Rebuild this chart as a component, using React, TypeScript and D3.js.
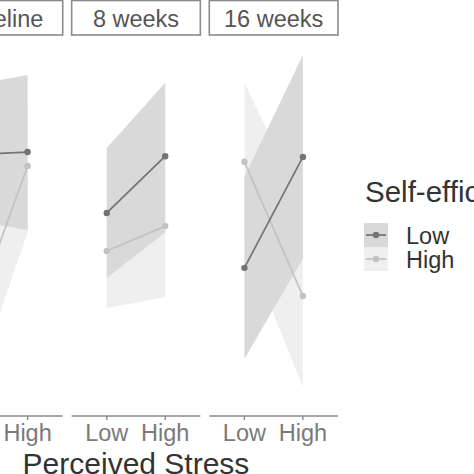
import React from "react";
import * as d3 from "d3";

// Facets (time points) and x categories
const facets = ["Baseline", "8 weeks", "16 weeks"];
const stressLevels = ["Low", "High"];
const efficacyGroups = ["Low", "High"];
const xTitle = "Perceived Stress";
const legendTitle = "Self-efficacy";

// Per facet: [Low stress, High stress]
const lowEffMean = [[6.94, 7.02], [5.40, 6.91], [3.94, 6.89]];
const lowEffLower = [[5.21, 4.95], [3.67, 4.89], [1.52, 4.18]];
const lowEffUpper = [[8.78, 9.07], [7.13, 8.86], [6.36, 9.60]];
const highEffMean = [[2.34, 6.65], [4.39, 5.05], [6.76, 3.19]];
const highEffLower = [[0.35, 4.89], [2.87, 3.16], [4.65, 0.77]];
const highEffUpper = [[4.34, 8.40], [5.90, 6.94], [8.86, 5.61]];

const W = 474;
const H = 474;
const FONT = "'Liberation Sans', Arial, Helvetica, sans-serif";

const groupStyle: Record<string, { line: string; fill: string }> = {
  Low: { line: "#737373", fill: "#d9d9d9" },
  High: { line: "#c2c2c2", fill: "#efefef" },
};

export default function App() {
  const facetX = d3.scaleBand<string>().domain(facets).range([-66, 338]).paddingInner(0.065);
  const pw = facetX.bandwidth();
  const x = d3.scalePoint<string>().domain(stressLevels).range([0, pw]).padding(0.6);
  const y = d3.scaleLinear().domain([0, 10]).range([416, 40]);
  const axisY = 416;

  const series = (fi: number) => [
    { g: "High", mean: highEffMean[fi], lo: highEffLower[fi], hi: highEffUpper[fi] },
    { g: "Low", mean: lowEffMean[fi], lo: lowEffLower[fi], hi: lowEffUpper[fi] },
  ];

  const area = d3
    .area<{ s: string; lo: number; hi: number }>()
    .x((d) => x(d.s)!)
    .y0((d) => y(d.lo))
    .y1((d) => y(d.hi));
  const line = d3
    .line<{ s: string; v: number }>()
    .x((d) => x(d.s)!)
    .y((d) => y(d.v));

  return (
    <svg width={W} height={H} style={{ position: "absolute", left: 0, top: 0, background: "#fff" }}>
      <rect width={W} height={H} fill="#fff" />
      {facets.map((f, fi) => {
        const x0 = facetX(f)!;
        const ser = series(fi);
        return (
          <g key={f} transform={`translate(${x0},0)`}>
            {/* strip */}
            <rect x={0} y={0.5} width={pw} height={34.5} fill="#fff" stroke="#8a8a8a" strokeWidth={1.6} />
            <text x={pw / 2} y={27} textAnchor="middle" fontFamily={FONT} fontSize={23.5} fill="#555">
              {f}
            </text>
            {/* ribbons */}
            {ser.map((s) => (
              <path
                key={"r" + s.g}
                d={area(stressLevels.map((sl, i) => ({ s: sl, lo: s.lo[i], hi: s.hi[i] })))!}
                fill={groupStyle[s.g].fill}
              />
            ))}
            {/* lines */}
            {ser.map((s) => (
              <path
                key={"l" + s.g}
                d={line(stressLevels.map((sl, i) => ({ s: sl, v: s.mean[i] })))!}
                fill="none"
                stroke={groupStyle[s.g].line}
                strokeWidth={1.7}
              />
            ))}
            {/* points */}
            {ser.map((s) =>
              stressLevels.map((sl, i) => (
                <circle key={"p" + s.g + sl} cx={x(sl)!} cy={y(s.mean[i])} r={3.2} fill={groupStyle[s.g].line} />
              ))
            )}
            {/* x axis */}
            <line x1={0} x2={pw} y1={axisY} y2={axisY} stroke="#8a8a8a" strokeWidth={1.6} />
            {stressLevels.map((sl) => (
              <g key={"t" + sl} transform={`translate(${x(sl)},0)`}>
                <line y1={axisY} y2={axisY + 4} stroke="#8a8a8a" strokeWidth={1.4} />
                <text y={441} textAnchor="middle" fontFamily={FONT} fontSize={23.5} fill="#7a7a7a">
                  {sl}
                </text>
              </g>
            ))}
          </g>
        );
      })}
      {/* axis title */}
      <text x={(facetX(facets[0])! + facetX(facets[2])! + pw) / 2} y={473.5} textAnchor="middle" fontFamily={FONT} fontSize={30} fill="#333">
        {xTitle}
      </text>
      {/* legend */}
      <g>
        <text x={365} y={202} fontFamily={FONT} fontSize={29.5} fill="#333">
          {legendTitle}
        </text>
        {efficacyGroups.map((g, i) => {
          const ky = 223 + i * 24;
          return (
            <g key={"lg" + g}>
              <rect x={364} y={ky} width={24} height={24} fill={groupStyle[g].fill} />
              <line x1={366} x2={386} y1={ky + 12} y2={ky + 12} stroke={groupStyle[g].line} strokeWidth={1.7} />
              <circle cx={376} cy={ky + 12} r={3.2} fill={groupStyle[g].line} />
              <text x={406} y={ky + 21} fontFamily={FONT} fontSize={23.5} fill="#333">
                {g}
              </text>
            </g>
          );
        })}
      </g>
    </svg>
  );
}
